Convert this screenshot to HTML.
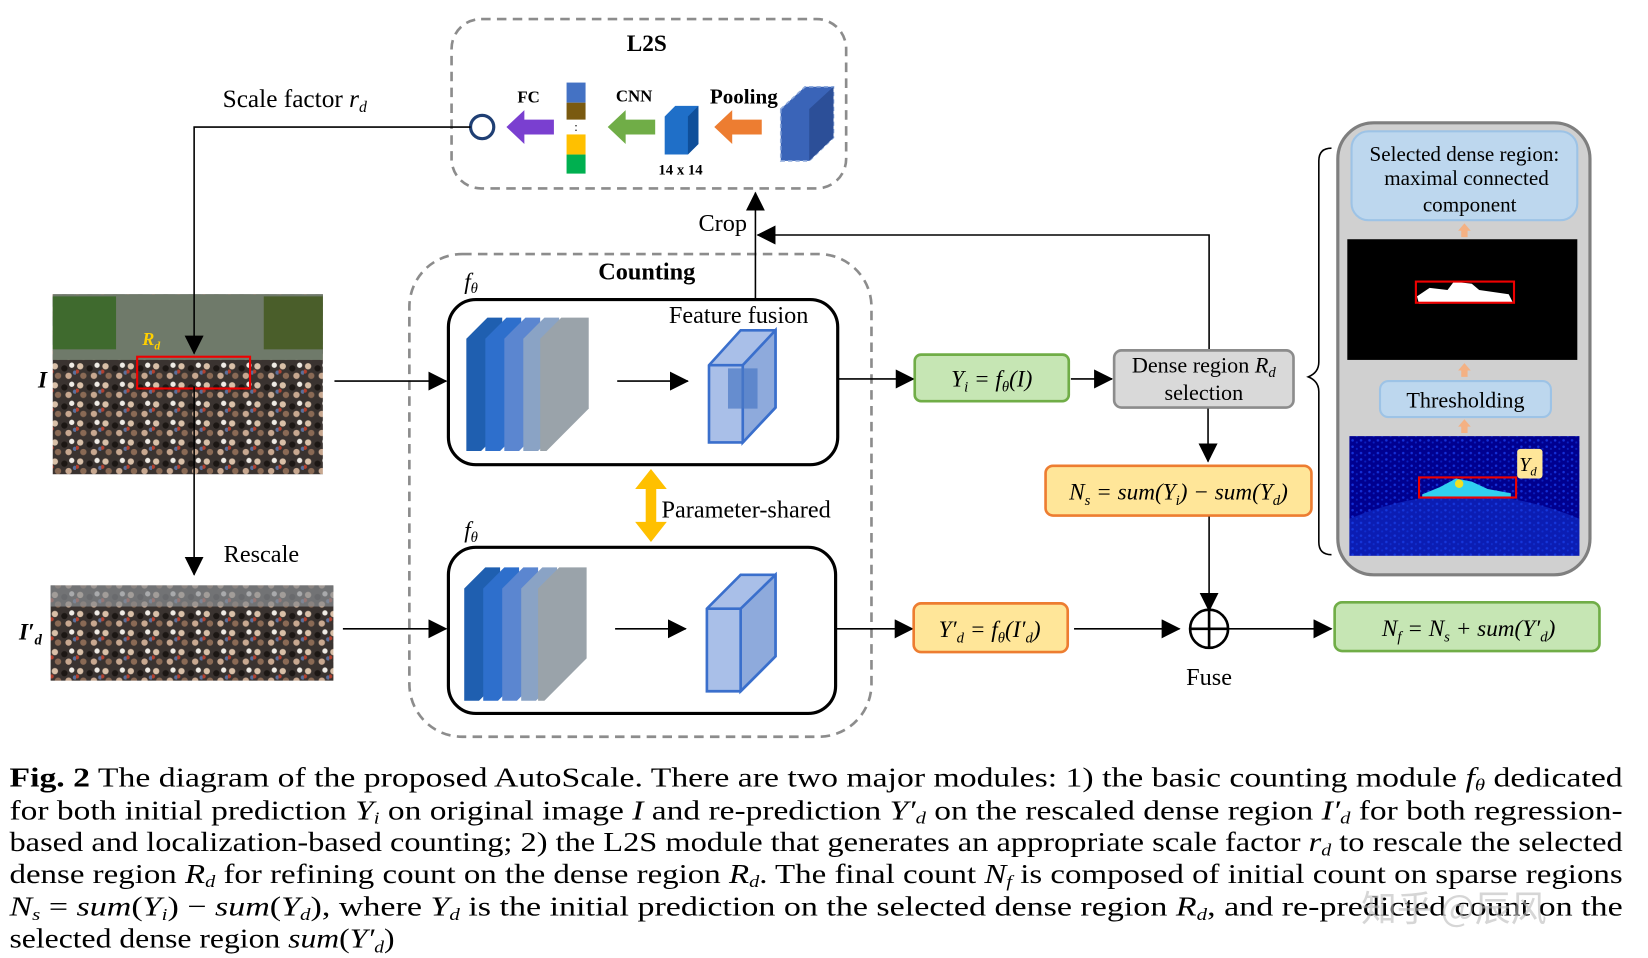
<!DOCTYPE html>
<html><head><meta charset="utf-8"><style>
html,body{margin:0;padding:0;background:#fff;}
svg{display:block;}
.s{font-family:"Liberation Serif",serif;}
</style></head><body>
<svg width="1648" height="958" viewBox="0 0 1562 905" preserveAspectRatio="none" xmlns="http://www.w3.org/2000/svg" class="s">
<defs>
<marker id="ar" markerWidth="10" markerHeight="10" refX="9" refY="5" orient="auto" markerUnits="userSpaceOnUse"><path d="M0,0 L10,5 L0,10 z" fill="#000"/></marker>
<marker id="ab" markerWidth="18" markerHeight="18" refX="17" refY="9" orient="auto" markerUnits="userSpaceOnUse"><path d="M0,0 L18,9 L0,18 z" fill="#000"/></marker>
<pattern id="crowd" width="24" height="18" patternUnits="userSpaceOnUse">
<rect width="24" height="18" fill="#3a3330"/>
<circle cx="4" cy="4" r="3" fill="#d9c0a8"/><circle cx="13" cy="6" r="3" fill="#1c1714"/><circle cx="20" cy="3" r="2.5" fill="#f0ece6"/>
<circle cx="7" cy="13" r="3" fill="#8a6a55"/><circle cx="17" cy="13" r="3" fill="#c8a890"/><circle cx="23" cy="10" r="2" fill="#5a6f9a"/>
<circle cx="1" cy="9" r="2" fill="#b3412f"/>
</pattern>
<pattern id="heat" width="8" height="6" patternUnits="userSpaceOnUse"><rect width="8" height="6" fill="#00008f"/><circle cx="2" cy="2" r="1.2" fill="#1430d8"/><circle cx="6" cy="4" r="1" fill="#0a20c0"/></pattern>
</defs>

<!-- L2S box -->
<rect x="428" y="18" width="374" height="160" rx="28" fill="none" stroke="#8c8c8c" stroke-width="2.5" stroke-dasharray="9,6"/>
<text x="613" y="48" font-size="22" font-weight="bold" text-anchor="middle">L2S</text>
<text x="501" y="97" font-size="16" font-weight="bold" text-anchor="middle">FC</text>
<text x="601" y="96" font-size="16" font-weight="bold" text-anchor="middle">CNN</text>
<text x="705" y="98" font-size="20" font-weight="bold" text-anchor="middle">Pooling</text>
<text x="645" y="165" font-size="14" font-weight="bold" text-anchor="middle">14 x 14</text>
<circle cx="457" cy="120" r="11" fill="#fff" stroke="#1f3f74" stroke-width="3"/>
<polygon points="480,120 497,104 497,113 525,113 525,127 497,127 497,136" fill="#7a3fd0"/>
<rect x="537" y="78" width="18" height="19" fill="#4472c4"/><rect x="537" y="97" width="18" height="16" fill="#7a5a10"/>
<text x="546" y="124" font-size="12" text-anchor="middle">:</text>
<rect x="537" y="127" width="18" height="19" fill="#ffc000"/><rect x="537" y="146" width="18" height="18" fill="#00b050"/>
<polygon points="576,120 593,104 593,113 621,113 621,127 593,127 593,136" fill="#70ad47"/>
<polygon points="630,110 640,100 662,100 662,136 652,146 630,146" fill="#1f6fc8"/>
<polygon points="652,110 662,100 662,136 652,146" fill="#0f4f9a"/>
<polygon points="677,120 694,104 694,113 722,113 722,127 694,127 694,136" fill="#ed7d31"/>
<polygon points="740,103 763,82 790,82 790,130 767,152 740,152" fill="#3a64b8" stroke="#8eaadc" stroke-width="1.5" stroke-dasharray="4,3"/>
<polygon points="767,103 790,82 790,130 767,152" fill="#2c4f98"/>
<text x="211" y="101" font-size="24">Scale factor <tspan font-style="italic">r</tspan><tspan font-style="italic" font-size="15" dy="5">d</tspan></text>

<!-- image I -->
<rect x="50" y="278" width="256" height="170" fill="url(#crowd)"/>
<rect x="50" y="278" width="256" height="62" fill="#6f7a6a"/>
<rect x="50" y="280" width="60" height="50" fill="#3f6a2e"/>
<rect x="250" y="280" width="56" height="50" fill="#4a5e2a"/>
<rect x="130" y="337" width="107" height="30" fill="none" stroke="#e00" stroke-width="2"/>
<text x="135" y="326" font-size="17" font-style="italic" font-weight="bold" fill="#ffd000">R<tspan font-size="11" dy="4">d</tspan></text>
<text x="36" y="366" font-size="22" font-style="italic" font-weight="bold">I</text>
<polyline points="446,120 184,120 184,334" fill="none" stroke="#000" stroke-width="1.5" marker-end="url(#ab)"/>
<line x1="184" y1="365" x2="184" y2="543" stroke="#000" stroke-width="1.5" marker-end="url(#ab)"/>
<text x="212" y="531" font-size="23">Rescale</text>
<!-- image I'd -->
<rect x="48" y="553" width="268" height="90" fill="url(#crowd)"/>
<rect x="48" y="553" width="268" height="20" fill="#8a8f93" opacity="0.7"/>
<text x="18" y="604" font-size="22" font-style="italic" font-weight="bold">I′<tspan font-size="14" dy="5">d</tspan></text>

<!-- counting box -->
<rect x="388" y="240" width="438" height="456" rx="50" fill="none" stroke="#8c8c8c" stroke-width="2.5" stroke-dasharray="9,6"/>
<text x="613" y="264" font-size="23" font-weight="bold" text-anchor="middle">Counting</text>
<text x="440" y="273" font-size="22" font-style="italic">f<tspan font-size="14" dy="4">θ</tspan></text>
<text x="440" y="508" font-size="22" font-style="italic">f<tspan font-size="14" dy="4">θ</tspan></text>
<rect x="425" y="283" width="369" height="156" rx="26" fill="#fff" stroke="#000" stroke-width="3"/>
<rect x="425" y="517" width="367" height="157" rx="26" fill="#fff" stroke="#000" stroke-width="3"/>
<text x="634" y="305" font-size="23">Feature fusion</text>

<g>
<polygon points="442,320 462,300 476,300 476,406 456,426 442,426" fill="#1f5fb0"/>
<polygon points="460,320 480,300 494,300 494,406 474,426 460,426" fill="#2e6fcc"/>
<polygon points="478,320 498,300 512,300 512,406 492,426 478,426" fill="#5b86d0"/>
<polygon points="496,320 516,300 530,300 530,406 510,426 496,426" fill="#8aa3c5"/>
<polygon points="512,320 532,300 558,300 558,386 518,426 512,426" fill="#9aa3aa"/>
</g>
<g transform="translate(-2,236)">
<polygon points="442,320 462,300 476,300 476,406 456,426 442,426" fill="#1f5fb0"/>
<polygon points="460,320 480,300 494,300 494,406 474,426 460,426" fill="#2e6fcc"/>
<polygon points="478,320 498,300 512,300 512,406 492,426 478,426" fill="#5b86d0"/>
<polygon points="496,320 516,300 530,300 530,406 510,426 496,426" fill="#8aa3c5"/>
<polygon points="512,320 532,300 558,300 558,386 518,426 512,426" fill="#9aa3aa"/>
</g>
<line x1="585" y1="360" x2="652" y2="360" stroke="#000" stroke-width="1.5" marker-end="url(#ab)"/>
<line x1="583" y1="594" x2="650" y2="594" stroke="#000" stroke-width="1.5" marker-end="url(#ab)"/>
<polygon points="672,345 702,312 735,312 735,385 704,418 672,418" fill="#a9bfe8" stroke="#3a6fcc" stroke-width="2.5"/>
<polygon points="704,345 735,312 735,385 704,418" fill="#8eaadc" stroke="#3a6fcc" stroke-width="2.5"/>
<line x1="672" y1="345" x2="704" y2="345" stroke="#3a6fcc" stroke-width="2.5"/>
<rect x="690" y="348" width="28" height="38" fill="#4a78c4" opacity="0.7"/>
<polygon points="670,575 702,543 735,543 735,620 702,653 670,653" fill="#a9bfe8" stroke="#3a6fcc" stroke-width="2.5"/>
<polygon points="702,575 735,543 735,620 702,653" fill="#8eaadc" stroke="#3a6fcc" stroke-width="2.5"/>
<line x1="670" y1="575" x2="702" y2="575" stroke="#3a6fcc" stroke-width="2.5"/>
<polygon points="617,443 632,462 622,462 622,493 632,493 617,512 602,493 612,493 612,462 602,462" fill="#ffc000"/>
<text x="627" y="489" font-size="23">Parameter-shared</text>

<line x1="317" y1="360" x2="423" y2="360" stroke="#000" stroke-width="1.5" marker-end="url(#ab)"/>
<line x1="325" y1="594" x2="423" y2="594" stroke="#000" stroke-width="1.5" marker-end="url(#ab)"/>
<line x1="716" y1="283" x2="716" y2="182" stroke="#000" stroke-width="1.5" marker-end="url(#ab)"/>
<text x="662" y="218" font-size="23">Crop</text>
<polyline points="1146,332 1146,222 718,222" fill="none" stroke="#000" stroke-width="1.5" marker-end="url(#ab)"/>

<line x1="794" y1="358" x2="866" y2="358" stroke="#000" stroke-width="1.5" marker-end="url(#ab)"/>
<rect x="867" y="335" width="146" height="44" rx="6" fill="#c6e6b4" stroke="#70ad47" stroke-width="2.5"/>
<text x="940" y="365" font-size="22" font-style="italic" text-anchor="middle">Y<tspan font-size="14" dy="5">i</tspan><tspan dy="-5"> = f</tspan><tspan font-size="14" dy="5">θ</tspan><tspan dy="-5">(I)</tspan></text>
<line x1="1015" y1="358" x2="1054" y2="358" stroke="#000" stroke-width="1.5" marker-end="url(#ab)"/>
<rect x="1056" y="331" width="170" height="54" rx="7" fill="#d9d9d9" stroke="#8c8c8c" stroke-width="2.5"/>
<text x="1141" y="352" font-size="21" text-anchor="middle">Dense region <tspan font-style="italic">R</tspan><tspan font-style="italic" font-size="14" dy="4">d</tspan></text>
<text x="1141" y="378" font-size="21" text-anchor="middle">selection</text>
<line x1="1145" y1="386" x2="1145" y2="436" stroke="#000" stroke-width="1.5" marker-end="url(#ab)"/>
<rect x="991" y="440" width="252" height="47" rx="7" fill="#ffe699" stroke="#ed7d31" stroke-width="2.5"/>
<text x="1117" y="472" font-size="22" font-style="italic" text-anchor="middle">N<tspan font-size="14" dy="5">s</tspan><tspan dy="-5"> = sum(Y</tspan><tspan font-size="14" dy="5">i</tspan><tspan dy="-5">) − sum(Y</tspan><tspan font-size="14" dy="5">d</tspan><tspan dy="-5">)</tspan></text>
<line x1="1146" y1="488" x2="1146" y2="577" stroke="#000" stroke-width="1.5" marker-end="url(#ab)"/>
<line x1="792" y1="594" x2="865" y2="594" stroke="#000" stroke-width="1.5" marker-end="url(#ab)"/>
<rect x="866" y="570" width="146" height="46" rx="7" fill="#ffe699" stroke="#ed7d31" stroke-width="2.5"/>
<text x="938" y="602" font-size="22" font-style="italic" text-anchor="middle">Y′<tspan font-size="14" dy="5">d</tspan><tspan dy="-5"> = f</tspan><tspan font-size="14" dy="5">θ</tspan><tspan dy="-5">(I′</tspan><tspan font-size="14" dy="5">d</tspan><tspan dy="-5">)</tspan></text>
<line x1="1018" y1="594" x2="1118" y2="594" stroke="#000" stroke-width="1.5" marker-end="url(#ab)"/>
<circle cx="1146" cy="594" r="18" fill="#fff" stroke="#000" stroke-width="2.5"/>
<line x1="1128" y1="594" x2="1164" y2="594" stroke="#000" stroke-width="2.5"/>
<line x1="1146" y1="576" x2="1146" y2="612" stroke="#000" stroke-width="2.5"/>
<text x="1146" y="647" font-size="23" text-anchor="middle">Fuse</text>
<line x1="1164" y1="594" x2="1262" y2="594" stroke="#000" stroke-width="1.5" marker-end="url(#ab)"/>
<rect x="1265" y="569" width="251" height="46" rx="7" fill="#c6e6b4" stroke="#70ad47" stroke-width="2.5"/>
<text x="1392" y="601" font-size="22" font-style="italic" text-anchor="middle">N<tspan font-size="14" dy="5">f</tspan><tspan dy="-5"> = N</tspan><tspan font-size="14" dy="5">s</tspan><tspan dy="-5"> + sum(Y′</tspan><tspan font-size="14" dy="5">d</tspan><tspan dy="-5">)</tspan></text>

<path d="M1262,140 Q1250,140 1250,152 L1250,342 Q1250,352 1240,356 Q1250,360 1250,370 L1250,512 Q1250,524 1262,524" fill="none" stroke="#000" stroke-width="1.5"/>
<rect x="1268" y="116" width="239" height="427" rx="34" fill="#d0d0d0" stroke="#7f7f7f" stroke-width="3"/>
<rect x="1281" y="124" width="214" height="84" rx="16" fill="#bdd7ee" stroke="#9dc3e6" stroke-width="2"/>
<text x="1388" y="152" font-size="20" text-anchor="middle">Selected dense region:</text>
<text x="1390" y="175" font-size="20" text-anchor="middle">maximal connected</text>
<text x="1393" y="200" font-size="20" text-anchor="middle">component</text>
<polygon points="1388,211 1394,218 1391,218 1391,224 1385,224 1385,218 1382,218" fill="#f4b183"/>
<rect x="1277" y="226" width="218" height="114" fill="#000"/>
<path d="M1343,280 L1355,272 L1372,274 L1378,266 L1395,268 L1402,274 L1430,278 L1434,286 L1345,287 z" fill="#fff"/>
<rect x="1342" y="266" width="93" height="20" fill="none" stroke="#e00" stroke-width="2"/>
<polygon points="1388,343 1394,350 1391,350 1391,356 1385,356 1385,350 1382,350" fill="#f4b183"/>
<rect x="1308" y="360" width="162" height="34" rx="8" fill="#bdd7ee" stroke="#9dc3e6" stroke-width="2"/>
<text x="1389" y="385" font-size="21" text-anchor="middle">Thresholding</text>
<polygon points="1388,396 1394,403 1391,403 1391,409 1385,409 1385,403 1382,403" fill="#f4b183"/>
<rect x="1279" y="412" width="218" height="113" fill="url(#heat)"/>
<path d="M1279,525 L1279,490 Q1388,445 1497,490 L1497,525 z" fill="#1840e0" opacity="0.45"/>
<path d="M1348,467 L1365,460 L1380,452 L1395,455 L1410,462 L1432,466 L1432,470 L1348,470z" fill="#30d0f0"/>
<circle cx="1383" cy="457" r="4" fill="#f0e020"/>
<rect x="1345" y="451" width="92" height="19" fill="none" stroke="#e00" stroke-width="2"/>
<rect x="1438" y="424" width="24" height="28" rx="3" fill="#ffe699"/>
<text x="1440" y="445" font-size="19" font-style="italic">Y<tspan font-size="12" dy="4">d</tspan></text>

<g font-size="26">
<text x="9" y="743" textLength="1529" lengthAdjust="spacingAndGlyphs"><tspan font-weight="bold">Fig. 2</tspan> The diagram of the proposed AutoScale. There are two major modules: 1) the basic counting module <tspan font-style="italic">f</tspan><tspan font-style="italic" font-size="16" dy="4">θ</tspan><tspan dy="-4"> dedicated</tspan></text>
<text x="9" y="774" textLength="1529" lengthAdjust="spacingAndGlyphs">for both initial prediction <tspan font-style="italic">Y</tspan><tspan font-style="italic" font-size="16" dy="4">i</tspan><tspan dy="-4"> on original image </tspan><tspan font-style="italic">I</tspan> and re-prediction <tspan font-style="italic">Y′</tspan><tspan font-style="italic" font-size="16" dy="4">d</tspan><tspan dy="-4"> on the rescaled dense region </tspan><tspan font-style="italic">I′</tspan><tspan font-style="italic" font-size="16" dy="4">d</tspan><tspan dy="-4"> for both regression-</tspan></text>
<text x="9" y="804" textLength="1529" lengthAdjust="spacingAndGlyphs">based and localization-based counting; 2) the L2S module that generates an appropriate scale factor <tspan font-style="italic">r</tspan><tspan font-style="italic" font-size="16" dy="4">d</tspan><tspan dy="-4"> to rescale the selected</tspan></text>
<text x="9" y="834" textLength="1529" lengthAdjust="spacingAndGlyphs">dense region <tspan font-style="italic">R</tspan><tspan font-style="italic" font-size="16" dy="4">d</tspan><tspan dy="-4"> for refining count on the dense region </tspan><tspan font-style="italic">R</tspan><tspan font-style="italic" font-size="16" dy="4">d</tspan><tspan dy="-4">. The final count </tspan><tspan font-style="italic">N</tspan><tspan font-style="italic" font-size="16" dy="4">f</tspan><tspan dy="-4"> is composed of initial count on sparse regions</tspan></text>
<text x="9" y="865" textLength="1529" lengthAdjust="spacingAndGlyphs"><tspan font-style="italic">N</tspan><tspan font-style="italic" font-size="16" dy="4">s</tspan><tspan dy="-4"> = </tspan><tspan font-style="italic">sum</tspan>(<tspan font-style="italic">Y</tspan><tspan font-style="italic" font-size="16" dy="4">i</tspan><tspan dy="-4">) − </tspan><tspan font-style="italic">sum</tspan>(<tspan font-style="italic">Y</tspan><tspan font-style="italic" font-size="16" dy="4">d</tspan><tspan dy="-4">), where </tspan><tspan font-style="italic">Y</tspan><tspan font-style="italic" font-size="16" dy="4">d</tspan><tspan dy="-4"> is the initial prediction on the selected dense region </tspan><tspan font-style="italic">R</tspan><tspan font-style="italic" font-size="16" dy="4">d</tspan><tspan dy="-4">, and re-predicted count on the</tspan></text>
<text x="9" y="895" textLength="365" lengthAdjust="spacingAndGlyphs">selected dense region <tspan font-style="italic">sum</tspan>(<tspan font-style="italic">Y′</tspan><tspan font-style="italic" font-size="16" dy="5">d</tspan><tspan dy="-5">)</tspan></text>
</g>
<text x="1290" y="870" font-size="34" fill="#bbb" opacity="0.6" font-family="Noto Sans CJK SC, sans-serif">知乎 @辰风</text>
</svg>
</body></html>
